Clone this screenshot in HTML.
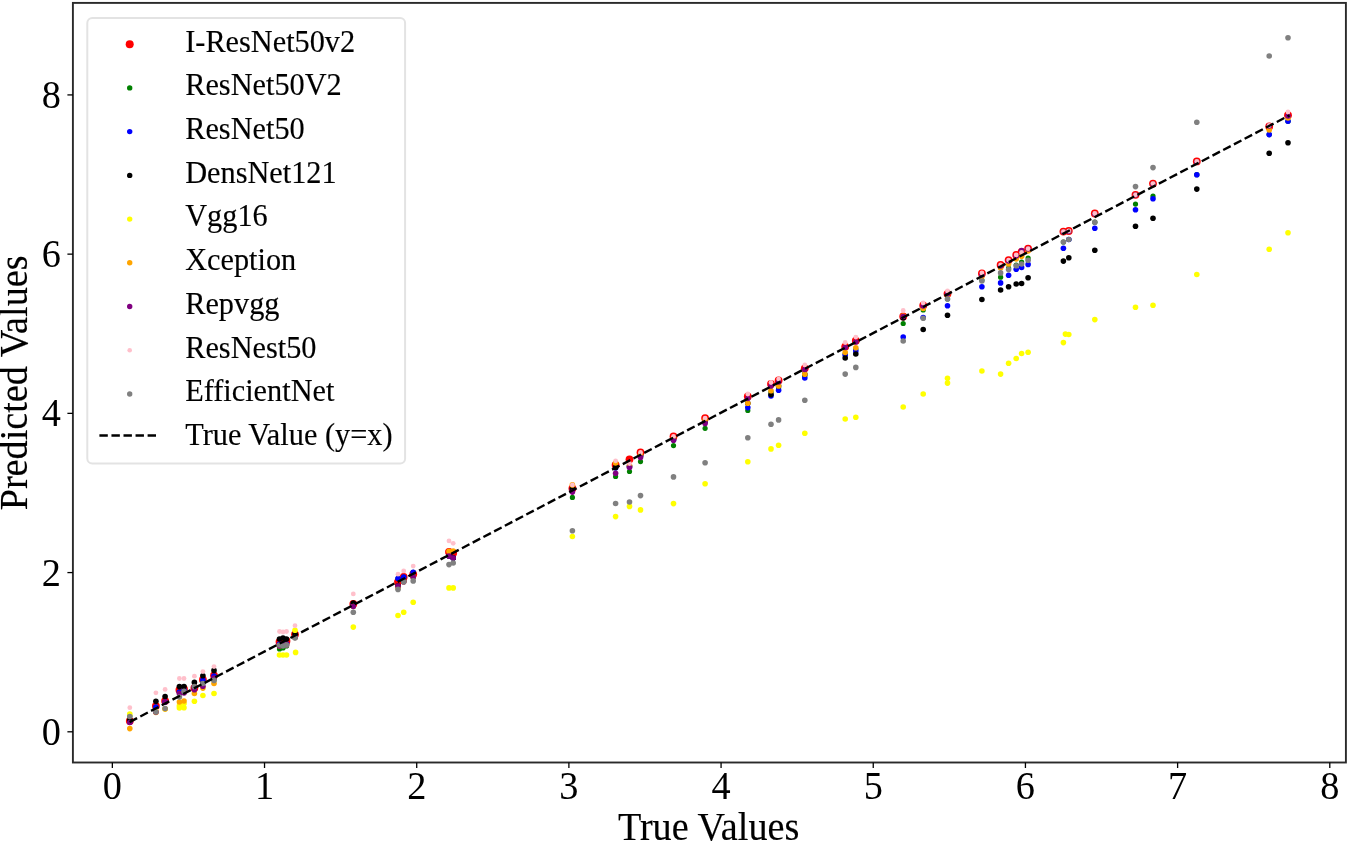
<!DOCTYPE html>
<html><head><meta charset="utf-8"><title>Predicted vs True Values</title>
<style>
html,body{margin:0;padding:0;background:#fff;width:1350px;height:843px;overflow:hidden}
svg{display:block}
text{font-family:"Liberation Serif","Times New Roman",serif;fill:#000;stroke:#000;stroke-width:0.15px}
</style></head><body>
<svg width="1350" height="843" viewBox="0 0 1350 843">
<defs><filter id="soft" x="0" y="0" width="1" height="1" color-interpolation-filters="sRGB"><feGaussianBlur stdDeviation="0.45"/></filter></defs>
<rect x="0" y="0" width="1350" height="843" fill="#fff"/>
<g filter="url(#soft)">
<rect x="0" y="0" width="1350" height="843" fill="#fff"/>
<g>
<circle cx="129.8" cy="721.0" r="3.9" fill="#ff0000"/>
<circle cx="155.9" cy="706.0" r="3.9" fill="#ff0000"/>
<circle cx="165.1" cy="701.0" r="3.9" fill="#ff0000"/>
<circle cx="179.4" cy="690.0" r="3.9" fill="#ff0000"/>
<circle cx="184.0" cy="689.0" r="3.9" fill="#ff0000"/>
<circle cx="194.4" cy="688.0" r="3.9" fill="#ff0000"/>
<circle cx="202.9" cy="679.7" r="3.9" fill="#ff0000"/>
<circle cx="214.0" cy="675.4" r="3.9" fill="#ff0000"/>
<circle cx="279.5" cy="642.0" r="3.9" fill="#ff0000"/>
<circle cx="283.0" cy="641.0" r="3.9" fill="#ff0000"/>
<circle cx="286.5" cy="641.0" r="3.9" fill="#ff0000"/>
<circle cx="295.0" cy="634.5" r="3.9" fill="#ff0000"/>
<circle cx="353.3" cy="604.0" r="3.9" fill="#ff0000"/>
<circle cx="398.0" cy="581.8" r="3.9" fill="#ff0000"/>
<circle cx="403.7" cy="577.0" r="3.9" fill="#ff0000"/>
<circle cx="413.2" cy="574.2" r="3.9" fill="#ff0000"/>
<circle cx="449.0" cy="552.0" r="3.9" fill="#ff0000"/>
<circle cx="453.2" cy="553.0" r="3.9" fill="#ff0000"/>
<circle cx="572.4" cy="488.5" r="3.9" fill="#ff0000"/>
<circle cx="615.6" cy="465.0" r="3.9" fill="#ff0000"/>
<circle cx="629.5" cy="459.3" r="3.9" fill="#ff0000"/>
<circle cx="640.5" cy="452.5" r="3.9" fill="#ff0000"/>
<circle cx="673.5" cy="436.4" r="3.9" fill="#ff0000"/>
<circle cx="705.1" cy="418.1" r="3.9" fill="#ff0000"/>
<circle cx="747.8" cy="396.5" r="3.9" fill="#ff0000"/>
<circle cx="771.0" cy="384.0" r="3.9" fill="#ff0000"/>
<circle cx="778.6" cy="380.5" r="3.9" fill="#ff0000"/>
<circle cx="804.8" cy="368.3" r="3.9" fill="#ff0000"/>
<circle cx="845.2" cy="346.7" r="3.9" fill="#ff0000"/>
<circle cx="855.8" cy="340.7" r="3.9" fill="#ff0000"/>
<circle cx="903.2" cy="316.5" r="3.9" fill="#ff0000"/>
<circle cx="923.2" cy="305.5" r="3.9" fill="#ff0000"/>
<circle cx="947.5" cy="293.8" r="3.9" fill="#ff0000"/>
<circle cx="981.9" cy="273.4" r="3.9" fill="#ff0000"/>
<circle cx="1000.6" cy="264.9" r="3.9" fill="#ff0000"/>
<circle cx="1008.6" cy="260.1" r="3.9" fill="#ff0000"/>
<circle cx="1016.2" cy="254.9" r="3.9" fill="#ff0000"/>
<circle cx="1021.6" cy="252.0" r="3.9" fill="#ff0000"/>
<circle cx="1028.1" cy="248.7" r="3.9" fill="#ff0000"/>
<circle cx="1063.4" cy="231.6" r="3.9" fill="#ff0000"/>
<circle cx="1068.8" cy="231.0" r="3.9" fill="#ff0000"/>
<circle cx="1094.8" cy="213.5" r="3.9" fill="#ff0000"/>
<circle cx="1135.5" cy="194.8" r="3.9" fill="#ff0000"/>
<circle cx="1153.0" cy="183.6" r="3.9" fill="#ff0000"/>
<circle cx="1196.8" cy="161.4" r="3.9" fill="#ff0000"/>
<circle cx="1269.2" cy="126.5" r="3.9" fill="#ff0000"/>
<circle cx="1288.0" cy="115.2" r="3.9" fill="#ff0000"/>
<circle cx="129.8" cy="716.0" r="2.6" fill="#008000"/>
<circle cx="155.9" cy="707.0" r="2.6" fill="#008000"/>
<circle cx="165.1" cy="702.0" r="2.6" fill="#008000"/>
<circle cx="179.4" cy="692.0" r="2.6" fill="#008000"/>
<circle cx="184.0" cy="690.0" r="2.6" fill="#008000"/>
<circle cx="194.4" cy="688.0" r="2.6" fill="#008000"/>
<circle cx="202.9" cy="682.0" r="2.6" fill="#008000"/>
<circle cx="214.0" cy="680.0" r="2.6" fill="#008000"/>
<circle cx="279.5" cy="649.0" r="2.6" fill="#008000"/>
<circle cx="283.0" cy="648.0" r="2.6" fill="#008000"/>
<circle cx="286.5" cy="646.0" r="2.6" fill="#008000"/>
<circle cx="295.0" cy="637.0" r="2.6" fill="#008000"/>
<circle cx="353.3" cy="605.0" r="2.6" fill="#008000"/>
<circle cx="398.0" cy="578.5" r="2.6" fill="#008000"/>
<circle cx="403.7" cy="577.1" r="2.6" fill="#008000"/>
<circle cx="413.2" cy="572.3" r="2.6" fill="#008000"/>
<circle cx="449.0" cy="556.0" r="2.6" fill="#008000"/>
<circle cx="453.2" cy="558.0" r="2.6" fill="#008000"/>
<circle cx="572.4" cy="497.4" r="2.6" fill="#008000"/>
<circle cx="615.6" cy="476.5" r="2.6" fill="#008000"/>
<circle cx="629.5" cy="471.5" r="2.6" fill="#008000"/>
<circle cx="640.5" cy="461.6" r="2.6" fill="#008000"/>
<circle cx="673.5" cy="445.6" r="2.6" fill="#008000"/>
<circle cx="705.1" cy="428.3" r="2.6" fill="#008000"/>
<circle cx="747.8" cy="410.4" r="2.6" fill="#008000"/>
<circle cx="771.0" cy="392.0" r="2.6" fill="#008000"/>
<circle cx="778.6" cy="388.0" r="2.6" fill="#008000"/>
<circle cx="804.8" cy="376.0" r="2.6" fill="#008000"/>
<circle cx="845.2" cy="354.0" r="2.6" fill="#008000"/>
<circle cx="855.8" cy="349.0" r="2.6" fill="#008000"/>
<circle cx="903.2" cy="323.5" r="2.6" fill="#008000"/>
<circle cx="923.2" cy="310.0" r="2.6" fill="#008000"/>
<circle cx="947.5" cy="299.0" r="2.6" fill="#008000"/>
<circle cx="981.9" cy="280.0" r="2.6" fill="#008000"/>
<circle cx="1000.6" cy="277.2" r="2.6" fill="#008000"/>
<circle cx="1008.6" cy="268.0" r="2.6" fill="#008000"/>
<circle cx="1016.2" cy="265.0" r="2.6" fill="#008000"/>
<circle cx="1021.6" cy="262.0" r="2.6" fill="#008000"/>
<circle cx="1028.1" cy="258.0" r="2.6" fill="#008000"/>
<circle cx="1063.4" cy="242.0" r="2.6" fill="#008000"/>
<circle cx="1068.8" cy="239.5" r="2.6" fill="#008000"/>
<circle cx="1094.8" cy="222.2" r="2.6" fill="#008000"/>
<circle cx="1135.5" cy="204.1" r="2.6" fill="#008000"/>
<circle cx="1153.0" cy="196.0" r="2.6" fill="#008000"/>
<circle cx="1196.8" cy="174.7" r="2.6" fill="#008000"/>
<circle cx="1269.2" cy="134.6" r="2.6" fill="#008000"/>
<circle cx="1288.0" cy="121.2" r="2.6" fill="#008000"/>
<circle cx="129.8" cy="722.0" r="2.8" fill="#0000ff"/>
<circle cx="155.9" cy="707.0" r="2.8" fill="#0000ff"/>
<circle cx="165.1" cy="702.0" r="2.8" fill="#0000ff"/>
<circle cx="179.4" cy="692.0" r="2.8" fill="#0000ff"/>
<circle cx="184.0" cy="690.0" r="2.8" fill="#0000ff"/>
<circle cx="194.4" cy="687.0" r="2.8" fill="#0000ff"/>
<circle cx="202.9" cy="680.0" r="2.8" fill="#0000ff"/>
<circle cx="214.0" cy="676.0" r="2.8" fill="#0000ff"/>
<circle cx="279.5" cy="644.0" r="2.8" fill="#0000ff"/>
<circle cx="283.0" cy="645.0" r="2.8" fill="#0000ff"/>
<circle cx="286.5" cy="644.0" r="2.8" fill="#0000ff"/>
<circle cx="295.0" cy="637.0" r="2.8" fill="#0000ff"/>
<circle cx="353.3" cy="604.0" r="2.8" fill="#0000ff"/>
<circle cx="398.0" cy="578.5" r="2.8" fill="#0000ff"/>
<circle cx="403.7" cy="577.1" r="2.8" fill="#0000ff"/>
<circle cx="413.2" cy="572.3" r="2.8" fill="#0000ff"/>
<circle cx="449.0" cy="556.0" r="2.8" fill="#0000ff"/>
<circle cx="453.2" cy="558.0" r="2.8" fill="#0000ff"/>
<circle cx="572.4" cy="490.0" r="2.8" fill="#0000ff"/>
<circle cx="615.6" cy="468.0" r="2.8" fill="#0000ff"/>
<circle cx="629.5" cy="467.0" r="2.8" fill="#0000ff"/>
<circle cx="640.5" cy="456.0" r="2.8" fill="#0000ff"/>
<circle cx="673.5" cy="440.0" r="2.8" fill="#0000ff"/>
<circle cx="705.1" cy="422.0" r="2.8" fill="#0000ff"/>
<circle cx="747.8" cy="407.6" r="2.8" fill="#0000ff"/>
<circle cx="771.0" cy="396.0" r="2.8" fill="#0000ff"/>
<circle cx="778.6" cy="390.2" r="2.8" fill="#0000ff"/>
<circle cx="804.8" cy="378.0" r="2.8" fill="#0000ff"/>
<circle cx="845.2" cy="355.0" r="2.8" fill="#0000ff"/>
<circle cx="855.8" cy="351.0" r="2.8" fill="#0000ff"/>
<circle cx="903.2" cy="337.0" r="2.8" fill="#0000ff"/>
<circle cx="923.2" cy="317.5" r="2.8" fill="#0000ff"/>
<circle cx="947.5" cy="305.7" r="2.8" fill="#0000ff"/>
<circle cx="981.9" cy="286.7" r="2.8" fill="#0000ff"/>
<circle cx="1000.6" cy="282.9" r="2.8" fill="#0000ff"/>
<circle cx="1008.6" cy="275.3" r="2.8" fill="#0000ff"/>
<circle cx="1016.2" cy="269.3" r="2.8" fill="#0000ff"/>
<circle cx="1021.6" cy="267.5" r="2.8" fill="#0000ff"/>
<circle cx="1028.1" cy="264.4" r="2.8" fill="#0000ff"/>
<circle cx="1063.4" cy="248.3" r="2.8" fill="#0000ff"/>
<circle cx="1068.8" cy="239.5" r="2.8" fill="#0000ff"/>
<circle cx="1094.8" cy="228.3" r="2.8" fill="#0000ff"/>
<circle cx="1135.5" cy="209.8" r="2.8" fill="#0000ff"/>
<circle cx="1153.0" cy="198.7" r="2.8" fill="#0000ff"/>
<circle cx="1196.8" cy="174.7" r="2.8" fill="#0000ff"/>
<circle cx="1269.2" cy="134.6" r="2.8" fill="#0000ff"/>
<circle cx="1288.0" cy="121.2" r="2.8" fill="#0000ff"/>
<circle cx="129.8" cy="720.0" r="2.8" fill="#000000"/>
<circle cx="155.9" cy="701.2" r="2.8" fill="#000000"/>
<circle cx="165.1" cy="696.6" r="2.8" fill="#000000"/>
<circle cx="179.4" cy="686.6" r="2.8" fill="#000000"/>
<circle cx="184.0" cy="686.6" r="2.8" fill="#000000"/>
<circle cx="194.4" cy="682.4" r="2.8" fill="#000000"/>
<circle cx="202.9" cy="675.8" r="2.8" fill="#000000"/>
<circle cx="214.0" cy="670.4" r="2.8" fill="#000000"/>
<circle cx="279.5" cy="639.0" r="2.8" fill="#000000"/>
<circle cx="283.0" cy="638.0" r="2.8" fill="#000000"/>
<circle cx="286.5" cy="639.0" r="2.8" fill="#000000"/>
<circle cx="295.0" cy="634.0" r="2.8" fill="#000000"/>
<circle cx="353.3" cy="603.0" r="2.8" fill="#000000"/>
<circle cx="398.0" cy="586.0" r="2.8" fill="#000000"/>
<circle cx="403.7" cy="581.0" r="2.8" fill="#000000"/>
<circle cx="413.2" cy="577.0" r="2.8" fill="#000000"/>
<circle cx="449.0" cy="556.0" r="2.8" fill="#000000"/>
<circle cx="453.2" cy="558.0" r="2.8" fill="#000000"/>
<circle cx="572.4" cy="488.5" r="2.8" fill="#000000"/>
<circle cx="615.6" cy="467.4" r="2.8" fill="#000000"/>
<circle cx="629.5" cy="466.0" r="2.8" fill="#000000"/>
<circle cx="640.5" cy="456.0" r="2.8" fill="#000000"/>
<circle cx="673.5" cy="439.0" r="2.8" fill="#000000"/>
<circle cx="705.1" cy="421.0" r="2.8" fill="#000000"/>
<circle cx="747.8" cy="403.2" r="2.8" fill="#000000"/>
<circle cx="771.0" cy="394.6" r="2.8" fill="#000000"/>
<circle cx="778.6" cy="386.0" r="2.8" fill="#000000"/>
<circle cx="804.8" cy="374.3" r="2.8" fill="#000000"/>
<circle cx="845.2" cy="358.0" r="2.8" fill="#000000"/>
<circle cx="855.8" cy="354.0" r="2.8" fill="#000000"/>
<circle cx="903.2" cy="318.0" r="2.8" fill="#000000"/>
<circle cx="923.2" cy="329.5" r="2.8" fill="#000000"/>
<circle cx="947.5" cy="315.2" r="2.8" fill="#000000"/>
<circle cx="981.9" cy="299.5" r="2.8" fill="#000000"/>
<circle cx="1000.6" cy="290.0" r="2.8" fill="#000000"/>
<circle cx="1008.6" cy="286.7" r="2.8" fill="#000000"/>
<circle cx="1016.2" cy="284.0" r="2.8" fill="#000000"/>
<circle cx="1021.6" cy="283.5" r="2.8" fill="#000000"/>
<circle cx="1028.1" cy="277.8" r="2.8" fill="#000000"/>
<circle cx="1063.4" cy="261.1" r="2.8" fill="#000000"/>
<circle cx="1068.8" cy="257.8" r="2.8" fill="#000000"/>
<circle cx="1094.8" cy="250.2" r="2.8" fill="#000000"/>
<circle cx="1135.5" cy="226.3" r="2.8" fill="#000000"/>
<circle cx="1153.0" cy="218.3" r="2.8" fill="#000000"/>
<circle cx="1196.8" cy="189.1" r="2.8" fill="#000000"/>
<circle cx="1269.2" cy="153.2" r="2.8" fill="#000000"/>
<circle cx="1288.0" cy="142.8" r="2.8" fill="#000000"/>
<circle cx="129.8" cy="714.0" r="2.8" fill="#ffff00"/>
<circle cx="155.9" cy="711.0" r="2.8" fill="#ffff00"/>
<circle cx="165.1" cy="709.0" r="2.8" fill="#ffff00"/>
<circle cx="179.4" cy="705.7" r="2.8" fill="#ffff00"/>
<circle cx="179.4" cy="708.0" r="2.8" fill="#ffff00"/>
<circle cx="184.0" cy="703.5" r="2.8" fill="#ffff00"/>
<circle cx="184.0" cy="707.7" r="2.8" fill="#ffff00"/>
<circle cx="194.4" cy="701.2" r="2.8" fill="#ffff00"/>
<circle cx="202.9" cy="695.5" r="2.8" fill="#ffff00"/>
<circle cx="214.0" cy="693.5" r="2.8" fill="#ffff00"/>
<circle cx="279.5" cy="655.0" r="2.8" fill="#ffff00"/>
<circle cx="283.0" cy="655.0" r="2.8" fill="#ffff00"/>
<circle cx="286.5" cy="655.0" r="2.8" fill="#ffff00"/>
<circle cx="295.0" cy="630.2" r="2.8" fill="#ffff00"/>
<circle cx="295.6" cy="652.4" r="2.8" fill="#ffff00"/>
<circle cx="353.3" cy="627.1" r="2.8" fill="#ffff00"/>
<circle cx="398.0" cy="615.5" r="2.8" fill="#ffff00"/>
<circle cx="403.7" cy="612.2" r="2.8" fill="#ffff00"/>
<circle cx="413.2" cy="602.2" r="2.8" fill="#ffff00"/>
<circle cx="449.0" cy="587.9" r="2.8" fill="#ffff00"/>
<circle cx="453.2" cy="587.9" r="2.8" fill="#ffff00"/>
<circle cx="572.4" cy="536.5" r="2.8" fill="#ffff00"/>
<circle cx="615.6" cy="516.6" r="2.8" fill="#ffff00"/>
<circle cx="629.5" cy="506.4" r="2.8" fill="#ffff00"/>
<circle cx="640.5" cy="509.9" r="2.8" fill="#ffff00"/>
<circle cx="673.5" cy="503.6" r="2.8" fill="#ffff00"/>
<circle cx="705.1" cy="483.7" r="2.8" fill="#ffff00"/>
<circle cx="747.8" cy="461.8" r="2.8" fill="#ffff00"/>
<circle cx="771.0" cy="448.9" r="2.8" fill="#ffff00"/>
<circle cx="778.6" cy="445.3" r="2.8" fill="#ffff00"/>
<circle cx="804.8" cy="433.2" r="2.8" fill="#ffff00"/>
<circle cx="845.2" cy="419.0" r="2.8" fill="#ffff00"/>
<circle cx="855.8" cy="417.2" r="2.8" fill="#ffff00"/>
<circle cx="903.2" cy="407.0" r="2.8" fill="#ffff00"/>
<circle cx="923.2" cy="394.0" r="2.8" fill="#ffff00"/>
<circle cx="947.5" cy="378.3" r="2.8" fill="#ffff00"/>
<circle cx="947.5" cy="383.1" r="2.8" fill="#ffff00"/>
<circle cx="981.9" cy="371.0" r="2.8" fill="#ffff00"/>
<circle cx="1000.6" cy="374.1" r="2.8" fill="#ffff00"/>
<circle cx="1008.6" cy="363.2" r="2.8" fill="#ffff00"/>
<circle cx="1016.2" cy="358.5" r="2.8" fill="#ffff00"/>
<circle cx="1021.6" cy="353.5" r="2.8" fill="#ffff00"/>
<circle cx="1028.1" cy="352.3" r="2.8" fill="#ffff00"/>
<circle cx="1063.4" cy="342.6" r="2.8" fill="#ffff00"/>
<circle cx="1068.8" cy="334.5" r="2.8" fill="#ffff00"/>
<circle cx="1065.4" cy="334.1" r="2.8" fill="#ffff00"/>
<circle cx="1094.8" cy="319.6" r="2.8" fill="#ffff00"/>
<circle cx="1135.5" cy="307.2" r="2.8" fill="#ffff00"/>
<circle cx="1153.0" cy="305.3" r="2.8" fill="#ffff00"/>
<circle cx="1196.8" cy="274.5" r="2.8" fill="#ffff00"/>
<circle cx="1269.2" cy="249.3" r="2.8" fill="#ffff00"/>
<circle cx="1288.0" cy="232.8" r="2.8" fill="#ffff00"/>
<circle cx="129.8" cy="728.6" r="2.8" fill="#ffa500"/>
<circle cx="155.9" cy="712.5" r="2.8" fill="#ffa500"/>
<circle cx="165.1" cy="709.0" r="2.8" fill="#ffa500"/>
<circle cx="179.4" cy="702.0" r="2.8" fill="#ffa500"/>
<circle cx="184.0" cy="701.0" r="2.8" fill="#ffa500"/>
<circle cx="194.4" cy="693.5" r="2.8" fill="#ffa500"/>
<circle cx="202.9" cy="688.1" r="2.8" fill="#ffa500"/>
<circle cx="214.0" cy="683.5" r="2.8" fill="#ffa500"/>
<circle cx="279.5" cy="646.0" r="2.8" fill="#ffa500"/>
<circle cx="283.0" cy="645.0" r="2.8" fill="#ffa500"/>
<circle cx="286.5" cy="645.0" r="2.8" fill="#ffa500"/>
<circle cx="295.0" cy="637.5" r="2.8" fill="#ffa500"/>
<circle cx="353.3" cy="606.5" r="2.8" fill="#ffa500"/>
<circle cx="398.0" cy="588.0" r="2.8" fill="#ffa500"/>
<circle cx="403.7" cy="581.8" r="2.8" fill="#ffa500"/>
<circle cx="413.2" cy="577.0" r="2.8" fill="#ffa500"/>
<circle cx="449.0" cy="551.3" r="2.8" fill="#ffa500"/>
<circle cx="453.2" cy="551.0" r="2.8" fill="#ffa500"/>
<circle cx="572.4" cy="484.9" r="2.8" fill="#ffa500"/>
<circle cx="615.6" cy="463.0" r="2.8" fill="#ffa500"/>
<circle cx="629.5" cy="466.0" r="2.8" fill="#ffa500"/>
<circle cx="640.5" cy="455.0" r="2.8" fill="#ffa500"/>
<circle cx="673.5" cy="438.0" r="2.8" fill="#ffa500"/>
<circle cx="705.1" cy="420.0" r="2.8" fill="#ffa500"/>
<circle cx="747.8" cy="403.2" r="2.8" fill="#ffa500"/>
<circle cx="771.0" cy="390.7" r="2.8" fill="#ffa500"/>
<circle cx="778.6" cy="385.9" r="2.8" fill="#ffa500"/>
<circle cx="804.8" cy="374.3" r="2.8" fill="#ffa500"/>
<circle cx="845.2" cy="352.5" r="2.8" fill="#ffa500"/>
<circle cx="855.8" cy="347.8" r="2.8" fill="#ffa500"/>
<circle cx="903.2" cy="316.0" r="2.8" fill="#ffa500"/>
<circle cx="923.2" cy="308.5" r="2.8" fill="#ffa500"/>
<circle cx="947.5" cy="295.0" r="2.8" fill="#ffa500"/>
<circle cx="981.9" cy="276.5" r="2.8" fill="#ffa500"/>
<circle cx="1000.6" cy="268.0" r="2.8" fill="#ffa500"/>
<circle cx="1008.6" cy="263.9" r="2.8" fill="#ffa500"/>
<circle cx="1016.2" cy="259.0" r="2.8" fill="#ffa500"/>
<circle cx="1021.6" cy="256.3" r="2.8" fill="#ffa500"/>
<circle cx="1028.1" cy="251.0" r="2.8" fill="#ffa500"/>
<circle cx="1063.4" cy="232.0" r="2.8" fill="#ffa500"/>
<circle cx="1068.8" cy="231.5" r="2.8" fill="#ffa500"/>
<circle cx="1094.8" cy="214.0" r="2.8" fill="#ffa500"/>
<circle cx="1135.5" cy="195.0" r="2.8" fill="#ffa500"/>
<circle cx="1153.0" cy="184.0" r="2.8" fill="#ffa500"/>
<circle cx="1196.8" cy="162.0" r="2.8" fill="#ffa500"/>
<circle cx="1269.2" cy="130.0" r="2.8" fill="#ffa500"/>
<circle cx="1288.0" cy="118.0" r="2.8" fill="#ffa500"/>
<circle cx="129.8" cy="722.5" r="2.8" fill="#800080"/>
<circle cx="155.9" cy="712.0" r="2.8" fill="#800080"/>
<circle cx="165.1" cy="701.8" r="2.8" fill="#800080"/>
<circle cx="179.4" cy="693.5" r="2.8" fill="#800080"/>
<circle cx="184.0" cy="693.0" r="2.8" fill="#800080"/>
<circle cx="194.4" cy="689.7" r="2.8" fill="#800080"/>
<circle cx="202.9" cy="686.2" r="2.8" fill="#800080"/>
<circle cx="214.0" cy="678.0" r="2.8" fill="#800080"/>
<circle cx="279.5" cy="646.0" r="2.8" fill="#800080"/>
<circle cx="283.0" cy="645.0" r="2.8" fill="#800080"/>
<circle cx="286.5" cy="645.0" r="2.8" fill="#800080"/>
<circle cx="295.0" cy="637.5" r="2.8" fill="#800080"/>
<circle cx="353.3" cy="606.5" r="2.8" fill="#800080"/>
<circle cx="398.0" cy="586.1" r="2.8" fill="#800080"/>
<circle cx="403.7" cy="581.8" r="2.8" fill="#800080"/>
<circle cx="413.2" cy="577.1" r="2.8" fill="#800080"/>
<circle cx="449.0" cy="556.1" r="2.8" fill="#800080"/>
<circle cx="453.2" cy="558.0" r="2.8" fill="#800080"/>
<circle cx="572.4" cy="492.1" r="2.8" fill="#800080"/>
<circle cx="615.6" cy="473.2" r="2.8" fill="#800080"/>
<circle cx="629.5" cy="467.5" r="2.8" fill="#800080"/>
<circle cx="640.5" cy="457.4" r="2.8" fill="#800080"/>
<circle cx="673.5" cy="440.3" r="2.8" fill="#800080"/>
<circle cx="705.1" cy="423.4" r="2.8" fill="#800080"/>
<circle cx="747.8" cy="398.5" r="2.8" fill="#800080"/>
<circle cx="771.0" cy="385.9" r="2.8" fill="#800080"/>
<circle cx="778.6" cy="382.0" r="2.8" fill="#800080"/>
<circle cx="804.8" cy="369.5" r="2.8" fill="#800080"/>
<circle cx="845.2" cy="347.5" r="2.8" fill="#800080"/>
<circle cx="855.8" cy="342.0" r="2.8" fill="#800080"/>
<circle cx="903.2" cy="316.5" r="2.8" fill="#800080"/>
<circle cx="923.2" cy="306.0" r="2.8" fill="#800080"/>
<circle cx="947.5" cy="294.0" r="2.8" fill="#800080"/>
<circle cx="981.9" cy="275.0" r="2.8" fill="#800080"/>
<circle cx="1000.6" cy="266.0" r="2.8" fill="#800080"/>
<circle cx="1008.6" cy="261.0" r="2.8" fill="#800080"/>
<circle cx="1016.2" cy="255.7" r="2.8" fill="#800080"/>
<circle cx="1021.6" cy="250.5" r="2.8" fill="#800080"/>
<circle cx="1028.1" cy="249.0" r="2.8" fill="#800080"/>
<circle cx="1063.4" cy="232.0" r="2.8" fill="#800080"/>
<circle cx="1068.8" cy="231.5" r="2.8" fill="#800080"/>
<circle cx="1094.8" cy="214.0" r="2.8" fill="#800080"/>
<circle cx="1135.5" cy="195.0" r="2.8" fill="#800080"/>
<circle cx="1153.0" cy="184.0" r="2.8" fill="#800080"/>
<circle cx="1196.8" cy="162.0" r="2.8" fill="#800080"/>
<circle cx="1269.2" cy="126.0" r="2.8" fill="#800080"/>
<circle cx="1288.0" cy="116.0" r="2.8" fill="#800080"/>
<circle cx="129.8" cy="707.7" r="2.4" fill="#ffc0cb"/>
<circle cx="155.9" cy="692.8" r="2.4" fill="#ffc0cb"/>
<circle cx="165.1" cy="689.4" r="2.4" fill="#ffc0cb"/>
<circle cx="179.4" cy="678.5" r="2.4" fill="#ffc0cb"/>
<circle cx="184.0" cy="678.5" r="2.4" fill="#ffc0cb"/>
<circle cx="194.4" cy="676.2" r="2.4" fill="#ffc0cb"/>
<circle cx="202.9" cy="671.6" r="2.4" fill="#ffc0cb"/>
<circle cx="214.0" cy="666.6" r="2.4" fill="#ffc0cb"/>
<circle cx="279.5" cy="631.5" r="2.4" fill="#ffc0cb"/>
<circle cx="283.0" cy="632.0" r="2.4" fill="#ffc0cb"/>
<circle cx="286.5" cy="631.5" r="2.4" fill="#ffc0cb"/>
<circle cx="295.0" cy="625.7" r="2.4" fill="#ffc0cb"/>
<circle cx="353.3" cy="593.9" r="2.4" fill="#ffc0cb"/>
<circle cx="398.0" cy="574.2" r="2.4" fill="#ffc0cb"/>
<circle cx="403.7" cy="570.9" r="2.4" fill="#ffc0cb"/>
<circle cx="413.2" cy="566.1" r="2.4" fill="#ffc0cb"/>
<circle cx="449.0" cy="540.9" r="2.4" fill="#ffc0cb"/>
<circle cx="453.2" cy="543.3" r="2.4" fill="#ffc0cb"/>
<circle cx="572.4" cy="484.9" r="2.4" fill="#ffc0cb"/>
<circle cx="615.6" cy="460.8" r="2.4" fill="#ffc0cb"/>
<circle cx="629.5" cy="463.5" r="2.4" fill="#ffc0cb"/>
<circle cx="640.5" cy="452.5" r="2.4" fill="#ffc0cb"/>
<circle cx="673.5" cy="436.4" r="2.4" fill="#ffc0cb"/>
<circle cx="705.1" cy="418.1" r="2.4" fill="#ffc0cb"/>
<circle cx="747.8" cy="394.0" r="2.4" fill="#ffc0cb"/>
<circle cx="771.0" cy="382.5" r="2.4" fill="#ffc0cb"/>
<circle cx="778.6" cy="379.1" r="2.4" fill="#ffc0cb"/>
<circle cx="804.8" cy="365.0" r="2.4" fill="#ffc0cb"/>
<circle cx="845.2" cy="342.5" r="2.4" fill="#ffc0cb"/>
<circle cx="855.8" cy="337.1" r="2.4" fill="#ffc0cb"/>
<circle cx="903.2" cy="310.5" r="2.4" fill="#ffc0cb"/>
<circle cx="923.2" cy="303.0" r="2.4" fill="#ffc0cb"/>
<circle cx="947.5" cy="291.0" r="2.4" fill="#ffc0cb"/>
<circle cx="981.9" cy="273.0" r="2.4" fill="#ffc0cb"/>
<circle cx="1000.6" cy="264.9" r="2.4" fill="#ffc0cb"/>
<circle cx="1008.6" cy="260.1" r="2.4" fill="#ffc0cb"/>
<circle cx="1016.2" cy="254.9" r="2.4" fill="#ffc0cb"/>
<circle cx="1021.6" cy="252.5" r="2.4" fill="#ffc0cb"/>
<circle cx="1028.1" cy="248.7" r="2.4" fill="#ffc0cb"/>
<circle cx="1063.4" cy="231.6" r="2.4" fill="#ffc0cb"/>
<circle cx="1068.8" cy="231.0" r="2.4" fill="#ffc0cb"/>
<circle cx="1094.8" cy="213.5" r="2.4" fill="#ffc0cb"/>
<circle cx="1135.5" cy="194.8" r="2.4" fill="#ffc0cb"/>
<circle cx="1153.0" cy="183.6" r="2.4" fill="#ffc0cb"/>
<circle cx="1196.8" cy="161.4" r="2.4" fill="#ffc0cb"/>
<circle cx="1269.2" cy="125.5" r="2.4" fill="#ffc0cb"/>
<circle cx="1288.0" cy="112.0" r="2.4" fill="#ffc0cb"/>
<circle cx="129.8" cy="716.5" r="2.8" fill="#808080"/>
<circle cx="155.9" cy="712.0" r="2.8" fill="#808080"/>
<circle cx="165.1" cy="708.5" r="2.8" fill="#808080"/>
<circle cx="179.4" cy="697.0" r="2.8" fill="#808080"/>
<circle cx="184.0" cy="691.4" r="2.8" fill="#808080"/>
<circle cx="194.4" cy="686.6" r="2.8" fill="#808080"/>
<circle cx="202.9" cy="683.5" r="2.8" fill="#808080"/>
<circle cx="214.0" cy="680.4" r="2.8" fill="#808080"/>
<circle cx="279.5" cy="645.0" r="2.8" fill="#808080"/>
<circle cx="283.0" cy="646.0" r="2.8" fill="#808080"/>
<circle cx="286.5" cy="645.0" r="2.8" fill="#808080"/>
<circle cx="295.0" cy="638.0" r="2.8" fill="#808080"/>
<circle cx="353.3" cy="612.3" r="2.8" fill="#808080"/>
<circle cx="398.0" cy="589.4" r="2.8" fill="#808080"/>
<circle cx="403.7" cy="581.8" r="2.8" fill="#808080"/>
<circle cx="413.2" cy="580.9" r="2.8" fill="#808080"/>
<circle cx="449.0" cy="564.6" r="2.8" fill="#808080"/>
<circle cx="453.2" cy="563.0" r="2.8" fill="#808080"/>
<circle cx="572.4" cy="530.7" r="2.8" fill="#808080"/>
<circle cx="615.6" cy="503.5" r="2.8" fill="#808080"/>
<circle cx="629.5" cy="502.0" r="2.8" fill="#808080"/>
<circle cx="640.5" cy="495.6" r="2.8" fill="#808080"/>
<circle cx="673.5" cy="476.9" r="2.8" fill="#808080"/>
<circle cx="705.1" cy="462.7" r="2.8" fill="#808080"/>
<circle cx="747.8" cy="437.8" r="2.8" fill="#808080"/>
<circle cx="771.0" cy="424.3" r="2.8" fill="#808080"/>
<circle cx="778.6" cy="419.9" r="2.8" fill="#808080"/>
<circle cx="804.8" cy="400.3" r="2.8" fill="#808080"/>
<circle cx="845.2" cy="374.1" r="2.8" fill="#808080"/>
<circle cx="855.8" cy="367.4" r="2.8" fill="#808080"/>
<circle cx="903.2" cy="341.0" r="2.8" fill="#808080"/>
<circle cx="923.2" cy="318.3" r="2.8" fill="#808080"/>
<circle cx="947.5" cy="299.0" r="2.8" fill="#808080"/>
<circle cx="981.9" cy="281.0" r="2.8" fill="#808080"/>
<circle cx="1000.6" cy="272.9" r="2.8" fill="#808080"/>
<circle cx="1008.6" cy="269.6" r="2.8" fill="#808080"/>
<circle cx="1016.2" cy="265.8" r="2.8" fill="#808080"/>
<circle cx="1021.6" cy="264.0" r="2.8" fill="#808080"/>
<circle cx="1028.1" cy="260.2" r="2.8" fill="#808080"/>
<circle cx="1063.4" cy="242.0" r="2.8" fill="#808080"/>
<circle cx="1068.8" cy="239.5" r="2.8" fill="#808080"/>
<circle cx="1094.8" cy="222.2" r="2.8" fill="#808080"/>
<circle cx="1135.5" cy="186.6" r="2.8" fill="#808080"/>
<circle cx="1153.0" cy="167.6" r="2.8" fill="#808080"/>
<circle cx="1196.8" cy="122.3" r="2.8" fill="#808080"/>
<circle cx="1269.2" cy="56.0" r="2.8" fill="#808080"/>
<circle cx="1288.0" cy="37.7" r="2.8" fill="#808080"/>
</g>
<line x1="129.60" y1="722.08" x2="1289.46" y2="115.32" stroke="#000" stroke-width="2.4" stroke-dasharray="8.45 3.65"/>
<rect x="72.9" y="2.9" width="1273.0" height="759.6" fill="none" stroke="#2a2a2a" stroke-width="1.9"/>
<line x1="112.35" y1="762.5" x2="112.35" y2="768.0" stroke="#000" stroke-width="1.3"/>
<text transform="translate(112.35,799.3) scale(1,1.06)" text-anchor="middle" font-size="38.3" style="stroke-width:0">0</text>
<line x1="264.53" y1="762.5" x2="264.53" y2="768.0" stroke="#000" stroke-width="1.3"/>
<text transform="translate(264.53,799.3) scale(1,1.06)" text-anchor="middle" font-size="38.3" style="stroke-width:0">1</text>
<line x1="416.71" y1="762.5" x2="416.71" y2="768.0" stroke="#000" stroke-width="1.3"/>
<text transform="translate(416.71,799.3) scale(1,1.06)" text-anchor="middle" font-size="38.3" style="stroke-width:0">2</text>
<line x1="568.89" y1="762.5" x2="568.89" y2="768.0" stroke="#000" stroke-width="1.3"/>
<text transform="translate(568.89,799.3) scale(1,1.06)" text-anchor="middle" font-size="38.3" style="stroke-width:0">3</text>
<line x1="721.07" y1="762.5" x2="721.07" y2="768.0" stroke="#000" stroke-width="1.3"/>
<text transform="translate(721.07,799.3) scale(1,1.06)" text-anchor="middle" font-size="38.3" style="stroke-width:0">4</text>
<line x1="873.25" y1="762.5" x2="873.25" y2="768.0" stroke="#000" stroke-width="1.3"/>
<text transform="translate(873.25,799.3) scale(1,1.06)" text-anchor="middle" font-size="38.3" style="stroke-width:0">5</text>
<line x1="1025.43" y1="762.5" x2="1025.43" y2="768.0" stroke="#000" stroke-width="1.3"/>
<text transform="translate(1025.43,799.3) scale(1,1.06)" text-anchor="middle" font-size="38.3" style="stroke-width:0">6</text>
<line x1="1177.61" y1="762.5" x2="1177.61" y2="768.0" stroke="#000" stroke-width="1.3"/>
<text transform="translate(1177.61,799.3) scale(1,1.06)" text-anchor="middle" font-size="38.3" style="stroke-width:0">7</text>
<line x1="1329.79" y1="762.5" x2="1329.79" y2="768.0" stroke="#000" stroke-width="1.3"/>
<text transform="translate(1329.79,799.3) scale(1,1.06)" text-anchor="middle" font-size="38.3" style="stroke-width:0">8</text>
<line x1="67.4" y1="731.80" x2="72.9" y2="731.80" stroke="#000" stroke-width="1.3"/>
<text transform="translate(60.8,744.80) scale(1,1.06)" text-anchor="end" font-size="38.3" style="stroke-width:0">0</text>
<line x1="67.4" y1="572.58" x2="72.9" y2="572.58" stroke="#000" stroke-width="1.3"/>
<text transform="translate(60.8,585.58) scale(1,1.06)" text-anchor="end" font-size="38.3" style="stroke-width:0">2</text>
<line x1="67.4" y1="413.36" x2="72.9" y2="413.36" stroke="#000" stroke-width="1.3"/>
<text transform="translate(60.8,426.36) scale(1,1.06)" text-anchor="end" font-size="38.3" style="stroke-width:0">4</text>
<line x1="67.4" y1="254.14" x2="72.9" y2="254.14" stroke="#000" stroke-width="1.3"/>
<text transform="translate(60.8,267.14) scale(1,1.06)" text-anchor="end" font-size="38.3" style="stroke-width:0">6</text>
<line x1="67.4" y1="94.92" x2="72.9" y2="94.92" stroke="#000" stroke-width="1.3"/>
<text transform="translate(60.8,107.92) scale(1,1.06)" text-anchor="end" font-size="38.3" style="stroke-width:0">8</text>
<text transform="translate(708.6,839.6) scale(1,1.03)" text-anchor="middle" font-size="38.2">True Values</text>
<text transform="translate(27.4,382.9) rotate(-90) scale(1,1.03)" text-anchor="middle" font-size="38.2">Predicted Values</text>
<rect x="87.3" y="17.9" width="317.8" height="445.6" rx="5" ry="5" fill="#fff" fill-opacity="0.8" stroke="#e3e3e3" stroke-width="2"/>
<circle cx="129.7" cy="44.2" r="4.0" fill="#ff0000"/>
<text transform="translate(185.2,51.60) scale(1,1.06)" font-size="30.3">I-ResNet50v2</text>
<circle cx="129.7" cy="87.9" r="2.7" fill="#008000"/>
<text transform="translate(185.2,95.32) scale(1,1.06)" font-size="30.3">ResNet50V2</text>
<circle cx="129.7" cy="131.6" r="2.7" fill="#0000ff"/>
<text transform="translate(185.2,139.04) scale(1,1.06)" font-size="30.3">ResNet50</text>
<circle cx="129.7" cy="175.4" r="2.7" fill="#000000"/>
<text transform="translate(185.2,182.76) scale(1,1.06)" font-size="30.3">DensNet121</text>
<circle cx="129.7" cy="219.1" r="2.7" fill="#ffff00"/>
<text transform="translate(185.2,226.48) scale(1,1.06)" font-size="30.3">Vgg16</text>
<circle cx="129.7" cy="262.8" r="2.7" fill="#ffa500"/>
<text transform="translate(185.2,270.20) scale(1,1.06)" font-size="30.3">Xception</text>
<circle cx="129.7" cy="306.5" r="2.7" fill="#800080"/>
<text transform="translate(185.2,313.92) scale(1,1.06)" font-size="30.3">Repvgg</text>
<circle cx="129.7" cy="350.2" r="2.3" fill="#ffc0cb"/>
<text transform="translate(185.2,357.64) scale(1,1.06)" font-size="30.3">ResNest50</text>
<circle cx="129.7" cy="394.0" r="2.7" fill="#808080"/>
<text transform="translate(185.2,401.36) scale(1,1.06)" font-size="30.3">EfficientNet</text>
<line x1="99.4" y1="435.5" x2="157.5" y2="435.5" stroke="#000" stroke-width="2.3" stroke-dasharray="8.4 3.65"/>
<text transform="translate(185.2,445.08) scale(1,1.06)" font-size="30.3">True Value (y=x)</text>
</g>
</svg>
</body></html>
